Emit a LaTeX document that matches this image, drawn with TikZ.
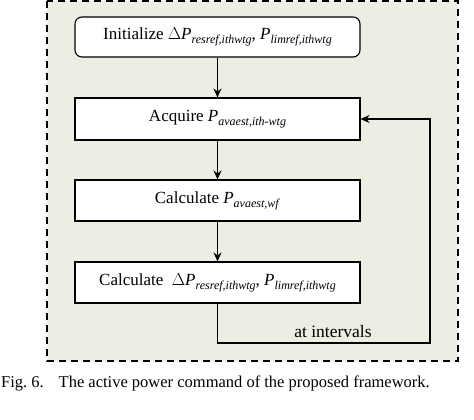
\documentclass[tikz,border=0pt]{standalone}
\usepackage{fontspec}
\setmainfont{Liberation Serif}
\usetikzlibrary{arrows.meta}
\definecolor{bgc}{RGB}{235,238,226}
\newcommand\PSub[1]{\textit{P}\raisebox{-4pt}{\fontsize{12}{12}\selectfont\textit{#1}}}
\tikzset{
  boxstyle/.style={draw, line width=1.1pt, fill=white, minimum width=285pt, inner sep=0pt, font=\fontsize{17}{19}\selectfont},
  arr/.style={line width=1.1pt, -{Stealth[length=9pt,width=8pt]}},
}
\begin{document}
\begin{tikzpicture}[x=1pt,y=-1pt]
\useasboundingbox (0,0) rectangle (474,420);
\draw[line width=1.2pt, dash pattern=on 7pt off 5pt, fill=bgc] (47,1) rectangle (458,361);
\node[boxstyle, rounded corners=7pt, minimum height=40pt] (b1) at (217.5,37) {Initialize $\Delta$\PSub{resref,ithwtg}, \PSub{limref,ithwtg}};
\node[boxstyle, minimum height=42pt] (b2) at (217.5,119) {Acquire \PSub{avaest,ith-wtg}};
\node[boxstyle, minimum height=41pt] (b3) at (217.5,200.5) {Calculate \PSub{avaest,wf}};
\node[boxstyle, minimum height=41pt] (b4) at (217.5,282.5) {Calculate\ \ $\Delta$\PSub{resref,ithwtg}, \PSub{limref,ithwtg}};
\coordinate (c1) at (430,343);
\draw[arr] (b1) -- (b2);
\draw[arr] (b2) -- (b3);
\draw[arr] (b3) -- (b4);
\draw[arr] (b4.south) |- (c1) |- (b2.east);
\node[font=\fontsize{17.5}{19}\selectfont] (lbl) at (333,332) {at intervals};
\node[anchor=west, inner sep=0pt, font=\fontsize{16.5}{18}\selectfont] (cap) at (1,383) {Fig.~6.\hspace{0.9em}The active power command of the proposed framework.};
\end{tikzpicture}
\end{document}
